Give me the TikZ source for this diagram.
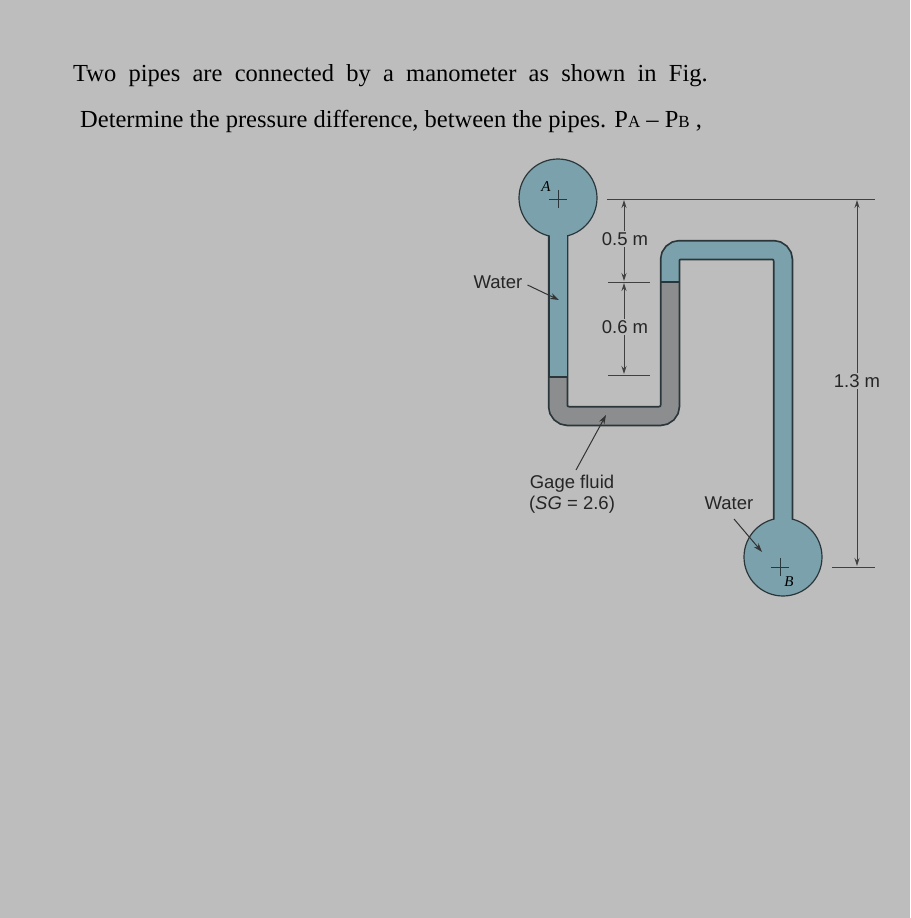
\documentclass[tikz,border=0pt]{standalone}
\usepackage{fontspec}
\setmainfont{Liberation Serif}
\newfontfamily\lab{Liberation Sans}
\usetikzlibrary{arrows.meta}
\definecolor{bg}{HTML}{BDBDBD}
\definecolor{wat}{HTML}{7BA2AC}
\definecolor{gage}{HTML}{8B8D8F}
\definecolor{edge}{HTML}{2A363A}
\begin{document}
\begin{tikzpicture}[x=1pt,y=-1pt,
  lbl/.style={font=\lab\fontsize{18.5}{21}\selectfont,text=black!85,inner sep=1pt},
  dim/.style={draw=black!75,line width=0.9pt},
  dimarr/.style={dim,{Stealth[length=8pt,width=5pt]}-{Stealth[length=8pt,width=5pt]}},
  lead/.style={draw=black!80,line width=1pt,-{Stealth[length=9pt,width=6pt]}},
  tube/.style={line width=17pt,rounded corners=10pt}]
\fill[bg] (0,0) rectangle (910,918);
\useasboundingbox (0,0) rectangle (910,918);
% heading
\node[anchor=base west,inner sep=0,font=\fontsize{24.5}{28}\selectfont] (t1) at (73,81)
 {Two\ \ pipes\ \ are\ \ connected\ \ by\ \ a\ \ manometer\ \ as\ \ shown\ \ in\ \ Fig.};
\node[anchor=base west,inner sep=0,font=\fontsize{24.5}{28}\selectfont] (t2) at (80,127)
 {Determine the pressure difference, between the pipes. P{\fontsize{17}{18}\selectfont A} -- P{\fontsize{17}{18}\selectfont B} ,};
% coordinates
\coordinate (A) at (558,198);
\coordinate (B) at (783,557);
\coordinate (i1) at (558,377);
\coordinate (i2) at (670,282);
% tube outline
\draw[line width=20.5pt,edge,rounded corners=10pt] (A) -- (558,416) -- (670,416) -- (670,250) -- (783,250) -- (B);
\filldraw[fill=wat,draw=edge,line width=1.2pt] (A) circle (39);
\filldraw[fill=wat,draw=edge,line width=1.2pt] (B) circle (39);
\draw[tube,wat] (A) -- (i1);
\draw[tube,gage] (i1) -- (558,416) -- (670,416) -- (i2);
\draw[tube,wat] (i2) -- (670,250) -- (783,250) -- (B);
\draw[edge,line width=1.5pt] (549,377) -- (567,377);
\draw[edge,line width=1.5pt] (661,282) -- (679,282);
% crosses and letters
\draw[edge,line width=1pt] (549,199) -- (567,199) (558,190) -- (558,208);
\node[font=\itshape\fontsize{15}{16}\selectfont,inner sep=0] (la) at (546,187) {A};
\draw[edge,line width=1pt] (771,567) -- (789,567) (780,558) -- (780,576);
\node[font=\itshape\fontsize{15}{16}\selectfont,inner sep=0] (lb) at (789,582) {B};
% dimension lines
\coordinate (d0a) at (607,199); \coordinate (d0b) at (875,199);
\draw[dim] (d0a) -- (d0b);
\draw[dim] (608,282) -- (650,282);
\draw[dim] (608,375) -- (650,375);
\draw[dim] (832,567) -- (875,567);
\draw[dimarr] (624,200) -- (624,281);
\draw[dimarr] (624,283) -- (624,374);
\draw[dimarr] (857,200) -- (857,566);
\node[lbl,fill=bg] (h1) at (625,239) {0.5 m};
\node[lbl,fill=bg] (h2) at (625,327) {0.6 m};
\node[lbl,fill=bg] (h3) at (857,381) {1.3 m};
% labels
\node[lbl] (w1) at (498,282) {Water};
\coordinate (w1t) at (559,300);
\draw[lead] (w1.east) ++(4,3) -- (w1t);
\node[lbl,align=center] (g) at (572,494) {Gage fluid\\({\itshape SG} = 2.6)};
\coordinate (gt) at (606,415);
\draw[lead] (576,470) -- (gt);
\node[lbl] (w2) at (729,503) {Water};
\coordinate (w2t) at (762,552);
\draw[lead] (734,519) -- (w2t);
\end{tikzpicture}
\end{document}
